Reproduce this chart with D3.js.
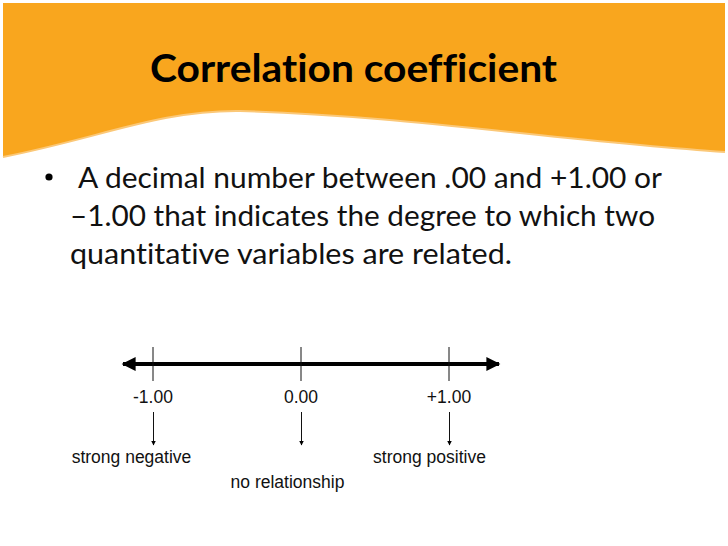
<!DOCTYPE html>
<html>
<head>
<meta charset="utf-8">
<script src="https://cdn.jsdelivr.net/npm/d3@7"></script>
<style>
  html, body { margin: 0; padding: 0; background: #fff; }
  svg { display: block; }
  text { font-variant-ligatures: none; font-feature-settings: "liga" 0, "clig" 0; }
</style>
</head>
<body>
<div id="chart"></div>
<script>
// slide content
const titleText = 'Correlation coefficient';
const bulletLines = [
  'A decimal number between .00 and +1.00 or',
  '\u20131.00 that indicates the degree to which two',
  'quantitative variables are related.'
];

// number line
const tickValues = [-1, 0, 1];
const tickLabels = ['-1.00', '0.00', '+1.00'];
const meanings = ['strong negative', 'no relationship', 'strong positive'];
const lineExtent = [-1.223, 1.358];

const W = 728, H = 546;
const orange = '#F9A61E';

const svg = d3.select('#chart')
  .append('svg')
  .attr('width', W)
  .attr('height', H);

// orange header with wavy bottom edge
const p = d3.path();
p.moveTo(3, 3);
p.lineTo(725, 3);
p.lineTo(725, 152);
p.bezierCurveTo(560, 141, 400, 115, 240, 111);
p.bezierCurveTo(160, 110, 100, 138, 3, 157);
p.closePath();
svg.append('path').attr('d', p.toString()).attr('fill', orange);

const edge = d3.path();
edge.moveTo(725, 152);
edge.bezierCurveTo(560, 141, 400, 115, 240, 111);
edge.bezierCurveTo(160, 110, 100, 138, 3, 157);
svg.append('path')
  .attr('d', edge.toString())
  .attr('fill', 'none')
  .attr('stroke', '#FBC878')
  .attr('stroke-width', 2);

// title
svg.append('text')
  .attr('x', 150)
  .attr('y', 82)
  .attr('font-family', 'Lato, "Open Sans", sans-serif')
  .attr('font-weight', 'bold')
  .attr('font-size', 39)
  .attr('fill', '#000')
  .attr('textLength', 407)
  .attr('lengthAdjust', 'spacingAndGlyphs')
  .text(titleText);

// bullet text
const lineLayout = [
  { x: 78, w: 584, y: 188 },
  { x: 70, w: 585, y: 226 },
  { x: 70, w: 442, y: 264 }
];
svg.append('circle')
  .attr('cx', 49)
  .attr('cy', 177)
  .attr('r', 3.6)
  .attr('fill', '#000');

svg.append('g')
  .selectAll('text')
  .data(bulletLines)
  .join('text')
  .attr('x', (d, i) => lineLayout[i].x)
  .attr('y', (d, i) => lineLayout[i].y)
  .attr('textLength', (d, i) => lineLayout[i].w)
  .attr('lengthAdjust', 'spacingAndGlyphs')
  .attr('font-family', 'Lato, "Open Sans", sans-serif')
  .attr('font-size', 28.5)
  .attr('fill', '#111')
  .text(d => d);

// number line
const x = d3.scaleLinear().domain([-1, 1]).range([153, 449]);
const lineY = 364;

const defs = svg.append('defs');
defs.append('marker')
  .attr('id', 'bigHead')
  .attr('viewBox', '0 0 10 10')
  .attr('refX', 9)
  .attr('refY', 5)
  .attr('markerUnits', 'userSpaceOnUse')
  .attr('markerWidth', 17)
  .attr('markerHeight', 14)
  .attr('orient', 'auto-start-reverse')
  .append('path')
  .attr('d', 'M0,0 L10,5 L0,10 z')
  .attr('fill', '#000');

defs.append('marker')
  .attr('id', 'smallHead')
  .attr('viewBox', '0 0 10 10')
  .attr('refX', 9)
  .attr('refY', 5)
  .attr('markerUnits', 'userSpaceOnUse')
  .attr('markerWidth', 5)
  .attr('markerHeight', 5)
  .attr('orient', 'auto')
  .append('path')
  .attr('d', 'M0,0 L10,5 L0,10 z')
  .attr('fill', '#000');

svg.append('line')
  .attr('x1', x(lineExtent[0]) + 3)
  .attr('x2', x(lineExtent[1]) - 3)
  .attr('y1', lineY)
  .attr('y2', lineY)
  .attr('stroke', '#000')
  .attr('stroke-width', 4)
  .attr('marker-start', 'url(#bigHead)')
  .attr('marker-end', 'url(#bigHead)');

const ticks = svg.append('g')
  .selectAll('g')
  .data(tickValues)
  .join('g');

ticks.append('line')
  .attr('x1', d => x(d))
  .attr('x2', d => x(d))
  .attr('y1', lineY - 17)
  .attr('y2', lineY + 17)
  .attr('stroke', '#111')
  .attr('stroke-width', 1);

ticks.append('text')
  .attr('x', d => x(d))
  .attr('y', 403)
  .attr('text-anchor', 'middle')
  .attr('font-family', '"Liberation Sans", Arial, sans-serif')
  .attr('font-size', 17.5)
  .attr('fill', '#111')
  .text((d, i) => tickLabels[i]);

ticks.append('line')
  .attr('x1', d => x(d) + 0.5)
  .attr('x2', d => x(d) + 0.5)
  .attr('y1', 412)
  .attr('y2', 445)
  .attr('stroke', '#111')
  .attr('stroke-width', 1)
  .attr('marker-end', 'url(#smallHead)');

// label offsets relative to each tick
const meaningLayout = [
  { dx: -21.5, y: 463 },
  { dx: -13.5, y: 488 },
  { dx: -19.5, y: 463 }
];
ticks.append('text')
  .attr('x', (d, i) => x(d) + meaningLayout[i].dx)
  .attr('y', (d, i) => meaningLayout[i].y)
  .attr('text-anchor', 'middle')
  .attr('font-family', '"Liberation Sans", Arial, sans-serif')
  .attr('font-size', 17.5)
  .attr('fill', '#111')
  .text((d, i) => meanings[i]);
</script>
</body>
</html>
